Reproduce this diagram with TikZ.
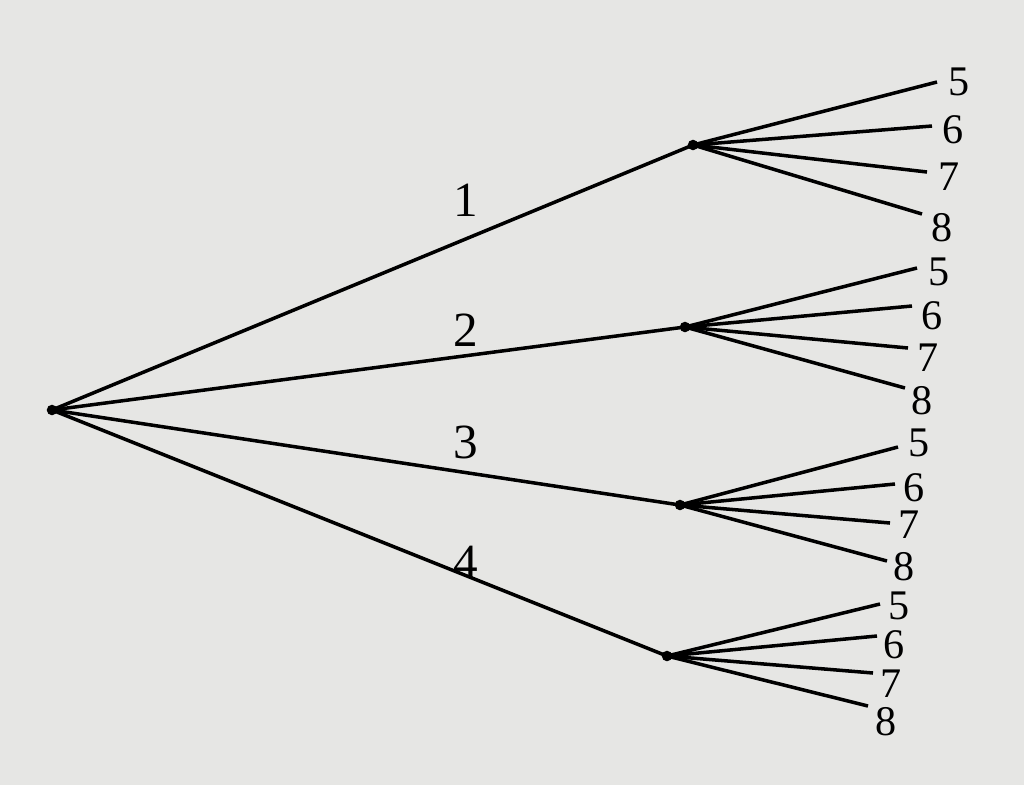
\documentclass[tikz,border=0pt]{standalone}
\usepackage{fontspec}
\setmainfont{Liberation Serif}
\definecolor{screen}{RGB}{230,230,228}
\tikzset{
  branch/.style={black, line width=2pt},
  leaf/.style={inner sep=0pt, font=\fontsize{24}{24}\selectfont},
  edgelabel/.style={inner sep=0pt, font=\fontsize{28}{28}\selectfont},
  fork/.style={circle, fill=black, inner sep=0pt, minimum size=6pt}
}
\begin{document}
\begin{tikzpicture}[x=0.02cm, y=-0.02cm]

\fill[screen] (0,0) rectangle (1024,785);
\useasboundingbox (0,0) rectangle (1024,785);

% root and forks
\node[fork] (root) at (52,410) {};
\node[fork] (a1) at (693,145) {};
\node[fork] (a2) at (685,327) {};
\node[fork] (a3) at (680,505) {};
\node[fork] (a4) at (667,656) {};

% ends of the branches
\coordinate (e1-5) at (937,82);
\coordinate (e1-6) at (932,126);
\coordinate (e1-7) at (927,172);
\coordinate (e1-8) at (922,214);
\coordinate (e2-5) at (917,268);
\coordinate (e2-6) at (912,306);
\coordinate (e2-7) at (908,348);
\coordinate (e2-8) at (905,388);
\coordinate (e3-5) at (898,447);
\coordinate (e3-6) at (895,484);
\coordinate (e3-7) at (890,523);
\coordinate (e3-8) at (887,561);
\coordinate (e4-5) at (880,604);
\coordinate (e4-6) at (877,636);
\coordinate (e4-7) at (873,673);
\coordinate (e4-8) at (868,706);

% leaf labels
\node[leaf] (a1-5) at (959,82) {5};
\node[leaf] (a1-6) at (953,130) {6};
\node[leaf] (a1-7) at (949,177) {7};
\node[leaf] (a1-8) at (942,228) {8};
\node[leaf] (a2-5) at (939,272) {5};
\node[leaf] (a2-6) at (932,316) {6};
\node[leaf] (a2-7) at (928,358) {7};
\node[leaf] (a2-8) at (922,401) {8};
\node[leaf] (a3-5) at (919,443) {5};
\node[leaf] (a3-6) at (914,488) {6};
\node[leaf] (a3-7) at (909,525) {7};
\node[leaf] (a3-8) at (904,567) {8};
\node[leaf] (a4-5) at (899,606) {5};
\node[leaf] (a4-6) at (894,645) {6};
\node[leaf] (a4-7) at (891,684) {7};
\node[leaf] (a4-8) at (886,722) {8};

% first stage
\draw [branch] (root.center) -- (a1.center);
\draw [branch] (root.center) -- (a2.center);
\draw [branch] (root.center) -- (a3.center);
\draw [branch] (root.center) -- (a4.center);

% second stage
\draw [branch] (a1.center) -- (e1-5);
\draw [branch] (a1.center) -- (e1-6);
\draw [branch] (a1.center) -- (e1-7);
\draw [branch] (a1.center) -- (e1-8);

\draw [branch] (a2.center) -- (e2-5);
\draw [branch] (a2.center) -- (e2-6);
\draw [branch] (a2.center) -- (e2-7);
\draw [branch] (a2.center) -- (e2-8);

\draw [branch] (a3.center) -- (e3-5);
\draw [branch] (a3.center) -- (e3-6);
\draw [branch] (a3.center) -- (e3-7);
\draw [branch] (a3.center) -- (e3-8);

\draw [branch] (a4.center) -- (e4-5);
\draw [branch] (a4.center) -- (e4-6);
\draw [branch] (a4.center) -- (e4-7);
\draw [branch] (a4.center) -- (e4-8);

% branch labels
\node[edgelabel] (l1) at (466,200) {1};
\node[edgelabel] (l2) at (466,330) {2};
\node[edgelabel] (l3) at (466,442) {3};
\node[edgelabel] (l4) at (466,562) {4};

\end{tikzpicture}
\end{document}
